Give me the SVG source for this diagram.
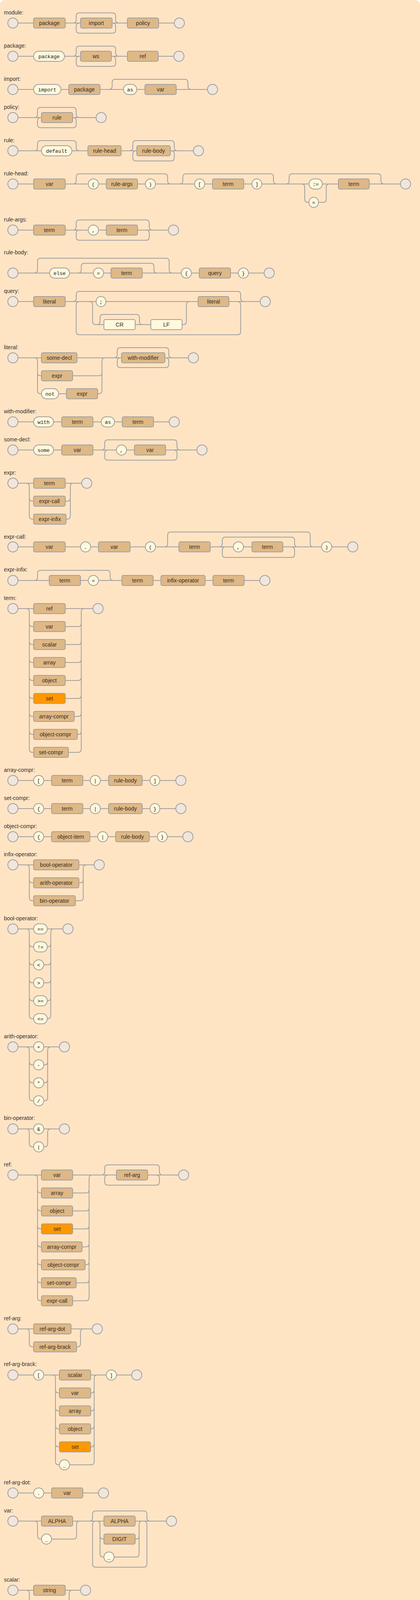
<svg xmlns="http://www.w3.org/2000/svg" width="1075" height="7528" viewBox="0 0 1075 7528">
<style>
.bg{fill:#FFE4C4}
.nt{fill:#DEB887;stroke:#A0A0A0;stroke-width:2}
.t{fill:#FFF8DC;stroke:#A0A0A0;stroke-width:2}
.l{fill:#FFF8DC;stroke:#A0A0A0;stroke-width:2}
.o{fill:#FF9800;stroke:#A0A0A0;stroke-width:2}
.c{fill:#F0E6DC;stroke:#A0A0A0;stroke-width:2}
.s{font-family:"Liberation Sans",Arial,sans-serif;font-size:14px;fill:#3a2f20;text-anchor:middle}
.m{font-family:"Liberation Mono","DejaVu Sans Mono",monospace;font-size:13px;fill:#222;text-anchor:middle}
.lb{font-family:"Liberation Sans",Arial,sans-serif;font-size:14px;fill:#333}
.k{font-family:"Liberation Sans",Arial,sans-serif;font-size:9px;fill:#333;text-anchor:middle}
#conn path{fill:none;stroke:#A0A0A0;stroke-width:2}
</style>
<rect class="bg" x="0" y="0" width="1075" height="7528" rx="12"/>
<g id="labels">
<text class="lb" x="10" y="37">module:</text>
<text class="lb" x="10" y="122">package:</text>
<text class="lb" x="10" y="207">import:</text>
<text class="lb" x="10" y="279">policy:</text>
<text class="lb" x="10" y="364">rule:</text>
<text class="lb" x="10" y="449">rule-head:</text>
<text class="lb" x="10" y="567">rule-args:</text>
<text class="lb" x="10" y="651">rule-body:</text>
<text class="lb" x="10" y="750">query:</text>
<text class="lb" x="10" y="894">literal:</text>
<text class="lb" x="10" y="1058">with-modifier:</text>
<text class="lb" x="10" y="1130">some-decl:</text>
<text class="lb" x="10" y="1215">expr:</text>
<text class="lb" x="10" y="1379">expr-call:</text>
<text class="lb" x="10" y="1463">expr-infix:</text>
<text class="lb" x="10" y="1536">term:</text>
<text class="lb" x="10" y="1976">array-compr:</text>
<text class="lb" x="10" y="2048">set-compr:</text>
<text class="lb" x="10" y="2120">object-compr:</text>
<text class="lb" x="10" y="2192">infix-operator:</text>
<text class="lb" x="10" y="2356">bool-operator:</text>
<text class="lb" x="10" y="2658">arith-operator:</text>
<text class="lb" x="10" y="2867">bin-operator:</text>
<text class="lb" x="10" y="2986">ref:</text>
<text class="lb" x="10" y="3380">ref-arg:</text>
<text class="lb" x="10" y="3497">ref-arg-brack:</text>
<text class="lb" x="10" y="3800">ref-arg-dot:</text>
<text class="lb" x="10" y="3872">var:</text>
<text class="lb" x="10" y="4049">scalar:</text>
<text class="lb" x="10" y="4305">string:</text>
<text class="lb" x="10" y="4423">raw-string:</text>
<text class="lb" x="10" y="4508">array:</text>
<text class="lb" x="10" y="4593">object:</text>
<text class="lb" x="10" y="4677">object-item:</text>
<text class="lb" x="10" y="4842">set:</text>
<text class="lb" x="10" y="4960">non-empty-set:</text>
<text class="lb" x="10" y="5045">empty-set:</text>
<text class="lb" x="10" y="5117">ALPHA:</text>
<text class="lb" x="10" y="5189">DIGIT:</text>
<text class="lb" x="10" y="5306">NUMBER:</text>
<text class="lb" x="10" y="5378">CHAR:</text>
<text class="lb" x="10" y="5451">ws:</text>
<text class="lb" x="10" y="5522">JSON-number:</text>
<text class="lb" x="10" y="5608">decimal-point:</text>
<text class="lb" x="10" y="5680">digit1-9:</text>
<text class="lb" x="10" y="5752">e:</text>
<text class="lb" x="10" y="5825">exp:</text>
<text class="lb" x="10" y="5942">frac:</text>
<text class="lb" x="10" y="6026">int:</text>
<text class="lb" x="10" y="6170">minus:</text>
<text class="lb" x="10" y="6243">plus:</text>
<text class="lb" x="10" y="6315">zero:</text>
<text class="lb" x="10" y="6387">JSON-string:</text>
<text class="lb" x="10" y="6472">quotation-mark:</text>
<text class="lb" x="10" y="6544">JSON-char:</text>
<text class="lb" x="10" y="7043">unescaped:</text>
<text class="lb" x="10" y="7115">escape:</text>
<text class="lb" x="10" y="7187">HEXDIG:</text>
</g>
<g id="conn">
<path d="M46,59H446M187,59Q195,59 195,51V41Q195,33 203,33H288Q296,33 296,41V51Q296,59 304,59M288,59Q296,59 296,67V77Q296,85 288,85H203Q195,85 195,77V67Q195,59 203,59"/>
<path d="M46,144H445M187,144Q195,144 195,136V126Q195,118 203,118H288Q296,118 296,126V136Q296,144 304,144M288,144Q296,144 296,152V162Q296,170 288,170H203Q195,170 195,162V152Q195,144 203,144"/>
<path d="M46,229H531M279,229Q287,229 287,221V211Q287,203 295,203H473Q481,203 481,211V221Q481,229 489,229"/>
<path d="M46,301H246M88,301Q96,301 96,293V283Q96,275 104,275H187Q195,275 195,283V293Q195,301 203,301M187,301Q195,301 195,309V319Q195,327 187,327H104Q96,327 96,319V309Q96,301 104,301"/>
<path d="M46,386H495M88,386Q96,386 96,378V368Q96,360 104,360H187Q195,360 195,368V378Q195,386 203,386M332,386Q340,386 340,378V368Q340,360 348,360H438Q446,360 446,368V378Q446,386 454,386M438,386Q446,386 446,394V404Q446,412 438,412H348Q340,412 340,404V394Q340,386 348,386"/>
<path d="M46,471H1025M187,471Q195,471 195,463V453Q195,445 203,445H421Q429,445 429,453V463Q429,471 437,471M460,471Q468,471 468,463V453Q468,445 476,445H692Q700,445 700,453V463Q700,471 708,471M732,471Q740,471 740,463V453Q740,445 748,445H967Q975,445 975,453V463Q975,471 983,471M772,471Q780,471 780,479V510M835,510V479Q835,471 843,471M780,510Q780,518 788,518H827Q835,518 835,510"/>
<path d="M46,589H431M187,589Q195,589 195,581V571Q195,563 203,563H374Q382,563 382,571V581Q382,589 390,589M374,589Q382,589 382,597V607Q382,615 374,615H203Q195,615 195,607V597Q195,589 203,589"/>
<path d="M46,699H676M88,699Q96,699 96,691V669Q96,661 104,661H425Q433,661 433,669V691Q433,699 441,699M200,699Q208,699 208,691V682Q208,674 216,674H386Q394,674 394,682V691Q394,699 402,699"/>
<path d="M46,772H666M187,772Q195,772 195,764V754Q195,746 203,746H608Q616,746 616,754V764Q616,772 624,772M608,772Q616,772 616,780V849Q616,857 608,857H203Q195,857 195,849V780Q195,772 203,772M229,772Q237,772 237,780V823M477,823V780Q477,772 485,772M237,823Q237,831 245,831H469Q477,831 477,823M248,831Q256,831 256,823V813Q256,805 264,805H349Q357,805 357,813V823Q357,831 365,831"/>
<path d="M46,916H482M88,916Q96,916 96,924V1000M261,1000V924Q261,916 269,916M96,954Q96,962 104,962H253Q261,962 261,954M96,1000Q96,1008 104,1008H253Q261,1008 261,1000M292,916Q300,916 300,908V898Q300,890 308,890H424Q432,890 432,898V908Q432,916 440,916M424,916Q432,916 432,924V933Q432,941 424,941H308Q300,941 300,933V924Q300,916 308,916"/>
<path d="M46,1080H433"/>
<path d="M46,1152H504M260,1152Q268,1152 268,1144V1134Q268,1126 276,1126H445Q453,1126 453,1134V1144Q453,1152 461,1152M445,1152Q453,1152 453,1160V1170Q453,1178 445,1178H276Q268,1178 268,1170V1160Q268,1152 276,1152"/>
<path d="M46,1237H209M67,1237Q75,1237 75,1245V1321M180,1321V1245Q180,1237 188,1237M75,1275Q75,1283 83,1283H172Q180,1283 180,1275M75,1321Q75,1329 83,1329H172Q180,1329 180,1321"/>
<path d="M46,1400H890M421,1400Q429,1400 429,1392V1370Q429,1362 437,1362H786Q794,1362 794,1370V1392Q794,1400 802,1400M561,1400Q569,1400 569,1392V1383Q569,1375 577,1375H746Q754,1375 754,1383V1392Q754,1400 762,1400M746,1400Q754,1400 754,1408V1419Q754,1427 746,1427H577Q569,1427 569,1419V1408Q569,1400 577,1400"/>
<path d="M46,1486H665M88,1486Q96,1486 96,1478V1468Q96,1460 104,1460H274Q282,1460 282,1468V1478Q282,1486 290,1486"/>
<path d="M46,1558H238M67,1558Q75,1558 75,1566V1918M208,1918V1566Q208,1558 216,1558M75,1596Q75,1604 83,1604H200Q208,1604 208,1596M75,1642Q75,1650 83,1650H200Q208,1650 208,1642M75,1688Q75,1696 83,1696H200Q208,1696 208,1688M75,1734Q75,1742 83,1742H200Q208,1742 208,1734M75,1780Q75,1788 83,1788H200Q208,1788 208,1780M75,1826Q75,1834 83,1834H200Q208,1834 208,1826M75,1872Q75,1880 83,1880H200Q208,1880 208,1872M75,1918Q75,1926 83,1926H200Q208,1926 208,1918"/>
<path d="M46,1998H450M46,2070H450M46,2142H468"/>
<path d="M46,2214H241M67,2214Q75,2214 75,2222V2298M213,2298V2222Q213,2214 221,2214M75,2252Q75,2260 83,2260H205Q213,2260 213,2252M75,2298Q75,2306 83,2306H205Q213,2306 213,2298"/>
<path d="M46,2378H161M67,2378Q75,2378 75,2386V2600M130,2600V2386Q130,2378 138,2378M75,2416Q75,2424 83,2424H122Q130,2424 130,2416M75,2462Q75,2470 83,2470H122Q130,2470 130,2462M75,2508Q75,2516 83,2516H122Q130,2516 130,2508M75,2554Q75,2562 83,2562H122Q130,2562 130,2554M75,2600Q75,2608 83,2608H122Q130,2608 130,2600"/>
<path d="M46,2680H152M67,2680Q75,2680 75,2688V2810M122,2810V2688Q122,2680 130,2680M75,2718Q75,2726 83,2726H114Q122,2726 122,2718M75,2764Q75,2772 83,2772H114Q122,2772 122,2764M75,2810Q75,2818 83,2818H114Q122,2818 122,2810"/>
<path d="M46,2890H152M67,2890Q75,2890 75,2898V2928M122,2928V2898Q122,2890 130,2890M75,2928Q75,2936 83,2936H114Q122,2936 122,2928"/>
<path d="M46,3008H457M88,3008Q96,3008 96,3016V3322M228,3322V3016Q228,3008 236,3008M96,3046Q96,3054 104,3054H220Q228,3054 228,3046M96,3092Q96,3100 104,3100H220Q228,3100 228,3092M96,3138Q96,3146 104,3146H220Q228,3146 228,3138M96,3184Q96,3192 104,3192H220Q228,3192 228,3184M96,3230Q96,3238 104,3238H220Q228,3238 228,3230M96,3276Q96,3284 104,3284H220Q228,3284 228,3276M96,3322Q96,3330 104,3330H220Q228,3330 228,3322M260,3008Q268,3008 268,3000V2990Q268,2982 276,2982H400Q408,2982 408,2990V3000Q408,3008 416,3008M400,3008Q408,3008 408,3016V3026Q408,3034 400,3034H276Q268,3034 268,3026V3016Q268,3008 276,3008"/>
<path d="M46,3402H236M67,3402Q75,3402 75,3410V3440M206,3440V3410Q206,3402 214,3402M75,3440Q75,3448 83,3448H198Q206,3448 206,3440"/>
<path d="M46,3520H337M134,3520Q142,3520 142,3528V3742M241,3742V3528Q241,3520 249,3520M142,3558Q142,3566 150,3566H233Q241,3566 241,3558M142,3604Q142,3612 150,3612H233Q241,3612 241,3604M142,3650Q142,3658 150,3658H233Q241,3658 241,3650M142,3696Q142,3704 150,3704H233Q241,3704 241,3696M142,3742Q142,3750 150,3750H233Q241,3750 241,3742"/>
<path d="M46,3822H252"/>
<path d="M46,3894H426M88,3894Q96,3894 96,3902V3932M196,3932V3902Q196,3894 204,3894M96,3932Q96,3940 104,3940H188Q196,3940 196,3932M229,3894Q237,3894 237,3886V3876Q237,3868 245,3868H368Q376,3868 376,3876V3886Q376,3894 384,3894M368,3894Q376,3894 376,3902V4004Q376,4012 368,4012H245Q237,4012 237,4004V3902Q237,3894 245,3894M248,3894Q256,3894 256,3902V3978M356,3978V3902Q356,3894 364,3894M256,3932Q256,3940 264,3940H348Q356,3940 356,3932M256,3978Q256,3986 264,3986H348Q356,3986 356,3978"/>
<path d="M46,4071H206M67,4071Q75,4071 75,4079V4247M177,4247V4079Q177,4071 185,4071M75,4109Q75,4117 83,4117H169Q177,4117 177,4109M75,4155Q75,4163 83,4163H169Q177,4163 177,4155M75,4201Q75,4209 83,4209H169Q177,4209 177,4201M75,4247Q75,4255 83,4255H169Q177,4255 177,4247"/>
<path d="M46,4327H241M67,4327Q75,4327 75,4335V4365M211,4365V4335Q211,4327 219,4327M75,4365Q75,4373 83,4373H203Q211,4373 211,4365"/>
<path d="M46,4445H424M134,4445Q142,4445 142,4437V4427Q142,4419 150,4419H320Q328,4419 328,4427V4437Q328,4445 336,4445M320,4445Q328,4445 328,4453V4463Q328,4471 320,4471H150Q142,4471 142,4463V4453Q142,4445 150,4445"/>
<path d="M46,4530H524M234,4530Q242,4530 242,4522V4512Q242,4504 250,4504H420Q428,4504 428,4512V4522Q428,4530 436,4530M420,4530Q428,4530 428,4538V4548Q428,4556 420,4556H250Q242,4556 242,4548V4538Q242,4530 250,4530"/>
<path d="M46,4615H560M253,4615Q261,4615 261,4607V4597Q261,4589 269,4589H456Q464,4589 464,4597V4607Q464,4615 472,4615M456,4615Q464,4615 464,4623V4633Q464,4641 456,4641H269Q261,4641 261,4633V4623Q261,4615 269,4615"/>
<path d="M46,4700H392M88,4700Q96,4700 96,4708V4784M196,4784V4708Q196,4700 204,4700M96,4738Q96,4746 104,4746H188Q196,4746 196,4738M96,4784Q96,4792 104,4792H188Q196,4792 196,4784"/>
<path d="M46,4864H248M67,4864Q75,4864 75,4872V4902M218,4902V4872Q218,4864 226,4864M75,4902Q75,4910 83,4910H210Q218,4910 218,4902"/>
<path d="M46,4982H524M234,4982Q242,4982 242,4974V4964Q242,4956 250,4956H420Q428,4956 428,4964V4974Q428,4982 436,4982M420,4982Q428,4982 428,4990V5000Q428,5008 420,5008H250Q242,5008 242,5000V4990Q242,4982 250,4982"/>
<path d="M46,5067H224M46,5139H182"/>
<path d="M46,5211H206M67,5211Q75,5211 75,5219V5249M176,5249V5219Q176,5211 184,5211M75,5249Q75,5257 83,5257H168Q176,5257 176,5249"/>
<path d="M46,5329H241M46,5401H206M46,5473H226"/>
<path d="M46,5558H626M88,5558Q96,5558 96,5550V5540Q96,5532 104,5532H187Q195,5532 195,5540V5550Q195,5558 203,5558M328,5558Q336,5558 336,5550V5540Q336,5532 344,5532H428Q436,5532 436,5540V5550Q436,5558 444,5558M469,5558Q477,5558 477,5550V5540Q477,5532 485,5532H568Q576,5532 576,5540V5550Q576,5558 584,5558"/>
<path d="M46,5630H206M46,5702H147M46,5774H147"/>
<path d="M46,5846H526M187,5846Q195,5846 195,5838V5828Q195,5820 203,5820H328Q336,5820 336,5828V5838Q336,5846 344,5846M209,5846Q217,5846 217,5854V5884M316,5884V5854Q316,5846 324,5846M217,5884Q217,5892 225,5892H308Q316,5892 316,5884M468,5846Q476,5846 476,5854V5864Q476,5872 468,5872H385Q377,5872 377,5864V5854Q377,5846 385,5846"/>
<path d="M46,5964H381M323,5964Q331,5964 331,5972V5982Q331,5990 323,5990H240Q232,5990 232,5982V5972Q232,5964 240,5964"/>
<path d="M46,6049H346M67,6049Q75,6049 75,6057V6100M316,6100V6057Q316,6049 324,6049M75,6100Q75,6108 83,6108H308Q316,6108 316,6100M189,6108Q197,6108 197,6100V6090Q197,6082 205,6082H288Q296,6082 296,6090V6100Q296,6108 304,6108M288,6108Q296,6108 296,6116V6125Q296,6133 288,6133H205Q197,6133 197,6125V6116Q197,6108 205,6108"/>
<path d="M46,6193H112M46,6265H112M46,6337H112"/>
<path d="M46,6409H552M235,6409Q243,6409 243,6401V6391Q243,6383 251,6383H347Q355,6383 355,6391V6401Q355,6409 363,6409M347,6409Q355,6409 355,6417V6427Q355,6435 347,6435H251Q243,6435 243,6427V6417Q243,6409 251,6409"/>
<path d="M46,6494H112"/>
<path d="M46,6566H432M67,6566Q75,6566 75,6574V6604M402,6604V6574Q402,6566 410,6566M75,6604Q75,6612 83,6612H394Q402,6612 402,6604M188,6612Q196,6612 196,6620V6972M381,6972V6620Q381,6612 389,6612M196,6650Q196,6658 204,6658H373Q381,6658 381,6650M196,6696Q196,6704 204,6704H373Q381,6704 381,6696M196,6742Q196,6750 204,6750H373Q381,6750 381,6742M196,6788Q196,6796 204,6796H373Q381,6796 381,6788M196,6834Q196,6842 204,6842H373Q381,6842 381,6834M196,6880Q196,6888 204,6888H373Q381,6888 381,6880M196,6926Q196,6934 204,6934H373Q381,6934 381,6926M196,6972Q196,6980 204,6980H373Q381,6980 381,6972M353,6980Q361,6980 361,6988V6997Q361,7005 353,7005H271Q263,7005 263,6997V6988Q263,6980 271,6980"/>
<path d="M46,7065H234M46,7137H112"/>
<path d="M46,7209H206M67,7209Q75,7209 75,7217V7477M176,7477V7217Q176,7209 184,7209M75,7247Q75,7255 83,7255H168Q176,7255 176,7247M75,7293Q75,7301 83,7301H168Q176,7301 176,7293M75,7339Q75,7347 83,7347H168Q176,7347 176,7339M75,7385Q75,7393 83,7393H168Q176,7393 176,7385M75,7431Q75,7439 83,7439H168Q176,7439 176,7431M75,7477Q75,7485 83,7485H168Q176,7485 176,7477"/>
</g>
<g id="ends">
<circle class="c" cx="33" cy="59" r="13"/><circle class="c" cx="459" cy="59" r="13"/>
<circle class="c" cx="33" cy="144" r="13"/><circle class="c" cx="458" cy="144" r="13"/>
<circle class="c" cx="33" cy="229" r="13"/><circle class="c" cx="544" cy="229" r="13"/>
<circle class="c" cx="33" cy="301" r="13"/><circle class="c" cx="259" cy="301" r="13"/>
<circle class="c" cx="33" cy="386" r="13"/><circle class="c" cx="508" cy="386" r="13"/>
<circle class="c" cx="33" cy="471" r="13"/><circle class="c" cx="1038" cy="471" r="13"/>
<circle class="c" cx="33" cy="589" r="13"/><circle class="c" cx="444" cy="589" r="13"/>
<circle class="c" cx="33" cy="699" r="13"/><circle class="c" cx="689" cy="699" r="13"/>
<circle class="c" cx="33" cy="772" r="13"/><circle class="c" cx="679" cy="772" r="13"/>
<circle class="c" cx="33" cy="916" r="13"/><circle class="c" cx="495" cy="916" r="13"/>
<circle class="c" cx="33" cy="1080" r="13"/><circle class="c" cx="446" cy="1080" r="13"/>
<circle class="c" cx="33" cy="1152" r="13"/><circle class="c" cx="517" cy="1152" r="13"/>
<circle class="c" cx="33" cy="1237" r="13"/><circle class="c" cx="222" cy="1237" r="13"/>
<circle class="c" cx="33" cy="1400" r="13"/><circle class="c" cx="903" cy="1400" r="13"/>
<circle class="c" cx="33" cy="1486" r="13"/><circle class="c" cx="678" cy="1486" r="13"/>
<circle class="c" cx="33" cy="1558" r="13"/><circle class="c" cx="251" cy="1558" r="13"/>
<circle class="c" cx="33" cy="1998" r="13"/><circle class="c" cx="463" cy="1998" r="13"/>
<circle class="c" cx="33" cy="2070" r="13"/><circle class="c" cx="463" cy="2070" r="13"/>
<circle class="c" cx="33" cy="2142" r="13"/><circle class="c" cx="481" cy="2142" r="13"/>
<circle class="c" cx="33" cy="2214" r="13"/><circle class="c" cx="254" cy="2214" r="13"/>
<circle class="c" cx="33" cy="2378" r="13"/><circle class="c" cx="174" cy="2378" r="13"/>
<circle class="c" cx="33" cy="2680" r="13"/><circle class="c" cx="165" cy="2680" r="13"/>
<circle class="c" cx="33" cy="2890" r="13"/><circle class="c" cx="165" cy="2890" r="13"/>
<circle class="c" cx="33" cy="3008" r="13"/><circle class="c" cx="470" cy="3008" r="13"/>
<circle class="c" cx="33" cy="3402" r="13"/><circle class="c" cx="249" cy="3402" r="13"/>
<circle class="c" cx="33" cy="3520" r="13"/><circle class="c" cx="350" cy="3520" r="13"/>
<circle class="c" cx="33" cy="3822" r="13"/><circle class="c" cx="265" cy="3822" r="13"/>
<circle class="c" cx="33" cy="3894" r="13"/><circle class="c" cx="439" cy="3894" r="13"/>
<circle class="c" cx="33" cy="4071" r="13"/><circle class="c" cx="219" cy="4071" r="13"/>
<circle class="c" cx="33" cy="4327" r="13"/><circle class="c" cx="254" cy="4327" r="13"/>
<circle class="c" cx="33" cy="4445" r="13"/><circle class="c" cx="437" cy="4445" r="13"/>
<circle class="c" cx="33" cy="4530" r="13"/><circle class="c" cx="537" cy="4530" r="13"/>
<circle class="c" cx="33" cy="4615" r="13"/><circle class="c" cx="573" cy="4615" r="13"/>
<circle class="c" cx="33" cy="4700" r="13"/><circle class="c" cx="405" cy="4700" r="13"/>
<circle class="c" cx="33" cy="4864" r="13"/><circle class="c" cx="261" cy="4864" r="13"/>
<circle class="c" cx="33" cy="4982" r="13"/><circle class="c" cx="537" cy="4982" r="13"/>
<circle class="c" cx="33" cy="5067" r="13"/><circle class="c" cx="237" cy="5067" r="13"/>
<circle class="c" cx="33" cy="5139" r="13"/><circle class="c" cx="195" cy="5139" r="13"/>
<circle class="c" cx="33" cy="5211" r="13"/><circle class="c" cx="219" cy="5211" r="13"/>
<circle class="c" cx="33" cy="5329" r="13"/><circle class="c" cx="254" cy="5329" r="13"/>
<circle class="c" cx="33" cy="5401" r="13"/><circle class="c" cx="219" cy="5401" r="13"/>
<circle class="c" cx="33" cy="5473" r="13"/><circle class="c" cx="239" cy="5473" r="13"/>
<circle class="c" cx="33" cy="5558" r="13"/><circle class="c" cx="639" cy="5558" r="13"/>
<circle class="c" cx="33" cy="5630" r="13"/><circle class="c" cx="219" cy="5630" r="13"/>
<circle class="c" cx="33" cy="5702" r="13"/><circle class="c" cx="160" cy="5702" r="13"/>
<circle class="c" cx="33" cy="5774" r="13"/><circle class="c" cx="160" cy="5774" r="13"/>
<circle class="c" cx="33" cy="5846" r="13"/><circle class="c" cx="539" cy="5846" r="13"/>
<circle class="c" cx="33" cy="5964" r="13"/><circle class="c" cx="394" cy="5964" r="13"/>
<circle class="c" cx="33" cy="6049" r="13"/><circle class="c" cx="359" cy="6049" r="13"/>
<circle class="c" cx="33" cy="6193" r="13"/><circle class="c" cx="125" cy="6193" r="13"/>
<circle class="c" cx="33" cy="6265" r="13"/><circle class="c" cx="125" cy="6265" r="13"/>
<circle class="c" cx="33" cy="6337" r="13"/><circle class="c" cx="125" cy="6337" r="13"/>
<circle class="c" cx="33" cy="6409" r="13"/><circle class="c" cx="565" cy="6409" r="13"/>
<circle class="c" cx="33" cy="6494" r="13"/><circle class="c" cx="125" cy="6494" r="13"/>
<circle class="c" cx="33" cy="6566" r="13"/><circle class="c" cx="445" cy="6566" r="13"/>
<circle class="c" cx="33" cy="7065" r="13"/><circle class="c" cx="247" cy="7065" r="13"/>
<circle class="c" cx="33" cy="7137" r="13"/><circle class="c" cx="125" cy="7137" r="13"/>
<circle class="c" cx="33" cy="7209" r="13"/><circle class="c" cx="219" cy="7209" r="13"/>
</g>
<g id="module">
<g id="n1"><rect class="nt" x="86" y="46" width="81" height="26" rx="4"/><text class="s" x="126.5" y="64">package</text></g>
<g id="n2"><rect class="nt" x="206" y="46" width="81" height="26" rx="4"/><text class="s" x="246.5" y="64">import</text></g>
<g id="n3"><rect class="nt" x="326" y="46" width="80" height="26" rx="4"/><text class="s" x="366" y="64">policy</text></g>
</g>
<g id="package">
<g id="n4"><rect class="t" x="86" y="131" width="79" height="26" rx="13"/><text class="m" x="125.5" y="149">package</text></g>
<g id="n5"><rect class="nt" x="206" y="131" width="79" height="26" rx="4"/><text class="s" x="245.5" y="149">ws</text></g>
<g id="n6"><rect class="nt" x="326" y="131" width="79" height="26" rx="4"/><text class="s" x="365.5" y="149">ref</text></g>
</g>
<g id="import">
<g id="n7"><rect class="t" x="86" y="216" width="70" height="26" rx="13"/><text class="m" x="121" y="234">import</text></g>
<g id="n8"><rect class="nt" x="176" y="216" width="80" height="26" rx="4"/><text class="s" x="216" y="234">package</text></g>
<g id="n9"><rect class="t" x="316" y="216" width="34" height="26" rx="13"/><text class="m" x="333" y="234">as</text></g>
<g id="n10"><rect class="nt" x="371" y="216" width="80" height="26" rx="4"/><text class="s" x="411" y="234">var</text></g>
</g>
<g id="policy">
<g id="n11"><rect class="nt" x="106" y="288" width="80" height="26" rx="4"/><text class="s" x="146" y="306">rule</text></g>
</g>
<g id="rule">
<g id="n12"><rect class="t" x="106" y="373" width="78" height="26" rx="13"/><text class="m" x="145" y="391">default</text></g>
<g id="n13"><rect class="nt" x="225" y="373" width="85" height="26" rx="4"/><text class="s" x="267.5" y="391">rule-head</text></g>
<g id="n14"><rect class="nt" x="350" y="373" width="86" height="26" rx="4"/><text class="s" x="393" y="391">rule-body</text></g>
</g>
<g id="rule-head">
<g id="n15"><rect class="nt" x="86" y="458" width="81" height="26" rx="4"/><text class="s" x="126.5" y="476">var</text></g>
<g id="n16"><rect class="t" x="226" y="458" width="26" height="26" rx="13"/><text class="m" x="239" y="476">(</text></g>
<g id="n17"><rect class="nt" x="272" y="458" width="80" height="26" rx="4"/><text class="s" x="312" y="476">rule-args</text></g>
<g id="n18"><rect class="t" x="372" y="458" width="26" height="26" rx="13"/><text class="m" x="385" y="476">)</text></g>
<g id="n19"><rect class="t" x="498" y="458" width="26" height="26" rx="13"/><text class="m" x="511" y="476">[</text></g>
<g id="n20"><rect class="nt" x="544" y="458" width="80" height="26" rx="4"/><text class="s" x="584" y="476">term</text></g>
<g id="n21"><rect class="t" x="645" y="458" width="25" height="26" rx="12.5"/><text class="m" x="657.5" y="476">]</text></g>
<g id="n22"><rect class="t" x="791" y="458" width="34" height="26" rx="13"/><text class="m" x="808" y="476">:=</text></g>
<g id="n23"><rect class="t" x="791" y="505" width="24" height="26" rx="12"/><text class="m" x="803" y="523">=</text></g>
<g id="n24"><rect class="nt" x="866" y="458" width="79" height="26" rx="4"/><text class="s" x="905.5" y="476">term</text></g>
</g>
<g id="rule-args">
<g id="n25"><rect class="nt" x="86" y="576" width="81" height="26" rx="4"/><text class="s" x="126.5" y="594">term</text></g>
<g id="n26"><rect class="t" x="226" y="576" width="26" height="26" rx="13"/><text class="m" x="239" y="594">,</text></g>
<g id="n27"><rect class="nt" x="272" y="576" width="80" height="26" rx="4"/><text class="s" x="312" y="594">term</text></g>
</g>
<g id="rule-body">
<g id="n28"><rect class="t" x="127" y="686" width="51" height="26" rx="13"/><text class="m" x="152.5" y="704">else</text></g>
<g id="n29"><rect class="t" x="239" y="686" width="26" height="26" rx="13"/><text class="m" x="252" y="704">=</text></g>
<g id="n30"><rect class="nt" x="284" y="686" width="80" height="26" rx="4"/><text class="s" x="324" y="704">term</text></g>
<g id="n31"><rect class="t" x="464" y="686" width="26" height="26" rx="13"/><text class="m" x="477" y="704">{</text></g>
<g id="n32"><rect class="nt" x="510" y="686" width="80" height="26" rx="4"/><text class="s" x="550" y="704">query</text></g>
<g id="n33"><rect class="t" x="610" y="686" width="26" height="26" rx="13"/><text class="m" x="623" y="704">}</text></g>
</g>
<g id="query">
<g id="n34"><rect class="nt" x="86" y="759" width="81" height="26" rx="4"/><text class="s" x="126.5" y="777">literal</text></g>
<g id="n35"><rect class="t" x="246" y="759" width="25" height="26" rx="12.5"/><text class="m" x="258.5" y="777">;</text></g>
<g id="n36"><rect class="l" x="266" y="818" width="80" height="26" rx="4"/><text class="s" x="306" y="836">CR</text></g>
<g id="n37"><rect class="l" x="386" y="818" width="80" height="26" rx="4"/><text class="s" x="426" y="836">LF</text></g>
<g id="n38"><rect class="nt" x="507" y="759" width="79" height="26" rx="4"/><text class="s" x="546.5" y="777">literal</text></g>
</g>
<g id="literal">
<g id="n39"><rect class="nt" x="106" y="903" width="91" height="26" rx="4"/><text class="s" x="151.5" y="921">some-decl</text></g>
<g id="n40"><rect class="nt" x="106" y="949" width="80" height="26" rx="4"/><text class="s" x="146" y="967">expr</text></g>
<g id="n41"><rect class="t" x="106" y="995" width="44" height="26" rx="13"/><text class="m" x="128" y="1013">not</text></g>
<g id="n42"><rect class="nt" x="170" y="995" width="80" height="26" rx="4"/><text class="s" x="210" y="1013">expr</text></g>
<g id="n43"><rect class="nt" x="311" y="903" width="111" height="26" rx="4"/><text class="s" x="366.5" y="921">with-modifier</text></g>
</g>
<g id="with-modifier">
<g id="n44"><rect class="t" x="86" y="1067" width="51" height="26" rx="13"/><text class="m" x="111.5" y="1085">with</text></g>
<g id="n45"><rect class="nt" x="158" y="1067" width="80" height="26" rx="4"/><text class="s" x="198" y="1085">term</text></g>
<g id="n46"><rect class="t" x="259" y="1067" width="34" height="26" rx="13"/><text class="m" x="276" y="1085">as</text></g>
<g id="n47"><rect class="nt" x="313" y="1067" width="80" height="26" rx="4"/><text class="s" x="353" y="1085">term</text></g>
</g>
<g id="some-decl">
<g id="n48"><rect class="t" x="86" y="1139" width="51" height="26" rx="13"/><text class="m" x="111.5" y="1157">some</text></g>
<g id="n49"><rect class="nt" x="158" y="1139" width="80" height="26" rx="4"/><text class="s" x="198" y="1157">var</text></g>
<g id="n50"><rect class="t" x="298" y="1139" width="26" height="26" rx="13"/><text class="m" x="311" y="1157">,</text></g>
<g id="n51"><rect class="nt" x="344" y="1139" width="80" height="26" rx="4"/><text class="s" x="384" y="1157">var</text></g>
</g>
<g id="expr">
<g id="n52"><rect class="nt" x="86" y="1224" width="81" height="26" rx="4"/><text class="s" x="126.5" y="1242">term</text></g>
<g id="n53"><rect class="nt" x="86" y="1270" width="81" height="26" rx="4"/><text class="s" x="126.5" y="1288">expr-call</text></g>
<g id="n54"><rect class="nt" x="86" y="1316" width="83" height="26" rx="4"/><text class="s" x="127.5" y="1334">expr-infix</text></g>
</g>
<g id="expr-call">
<g id="n55"><rect class="nt" x="86" y="1387" width="81" height="26" rx="4"/><text class="s" x="126.5" y="1405">var</text></g>
<g id="n56"><rect class="t" x="206" y="1387" width="26" height="26" rx="13"/><text class="m" x="219" y="1405">.</text></g>
<g id="n57"><rect class="nt" x="252" y="1387" width="81" height="26" rx="4"/><text class="s" x="292.5" y="1405">var</text></g>
<g id="n58"><rect class="t" x="372" y="1387" width="26" height="26" rx="13"/><text class="m" x="385" y="1405">(</text></g>
<g id="n59"><rect class="nt" x="458" y="1387" width="80" height="26" rx="4"/><text class="s" x="498" y="1405">term</text></g>
<g id="n60"><rect class="t" x="597" y="1387" width="26" height="26" rx="13"/><text class="m" x="610" y="1405">,</text></g>
<g id="n61"><rect class="nt" x="645" y="1387" width="79" height="26" rx="4"/><text class="s" x="684.5" y="1405">term</text></g>
<g id="n62"><rect class="t" x="823" y="1387" width="26" height="26" rx="13"/><text class="m" x="836" y="1405">)</text></g>
</g>
<g id="expr-infix">
<g id="n63"><rect class="nt" x="126" y="1473" width="80" height="26" rx="4"/><text class="s" x="166" y="1491">term</text></g>
<g id="n64"><rect class="t" x="226" y="1473" width="26" height="26" rx="13"/><text class="m" x="239" y="1491">=</text></g>
<g id="n65"><rect class="nt" x="312" y="1473" width="80" height="26" rx="4"/><text class="s" x="352" y="1491">term</text></g>
<g id="n66"><rect class="nt" x="412" y="1473" width="113" height="26" rx="4"/><text class="s" x="468.5" y="1491">infix-operator</text></g>
<g id="n67"><rect class="nt" x="545" y="1473" width="80" height="26" rx="4"/><text class="s" x="585" y="1491">term</text></g>
</g>
<g id="term">
<g id="n68"><rect class="nt" x="86" y="1545" width="81" height="26" rx="4"/><text class="s" x="126.5" y="1563">ref</text></g>
<g id="n69"><rect class="nt" x="86" y="1591" width="81" height="26" rx="4"/><text class="s" x="126.5" y="1609">var</text></g>
<g id="n70"><rect class="nt" x="86" y="1637" width="81" height="26" rx="4"/><text class="s" x="126.5" y="1655">scalar</text></g>
<g id="n71"><rect class="nt" x="86" y="1683" width="81" height="26" rx="4"/><text class="s" x="126.5" y="1701">array</text></g>
<g id="n72"><rect class="nt" x="86" y="1729" width="81" height="26" rx="4"/><text class="s" x="126.5" y="1747">object</text></g>
<g id="n73"><rect class="o" x="86" y="1775" width="81" height="26" rx="4"/><text class="s" x="126.5" y="1793">set</text></g>
<g id="n74"><rect class="nt" x="86" y="1821" width="104" height="26" rx="4"/><text class="s" x="138" y="1839">array-compr</text></g>
<g id="n75"><rect class="nt" x="86" y="1867" width="112" height="26" rx="4"/><text class="s" x="142" y="1885">object-compr</text></g>
<g id="n76"><rect class="nt" x="86" y="1913" width="89" height="26" rx="4"/><text class="s" x="130.5" y="1931">set-compr</text></g>
</g>
<g id="array-compr">
<g id="n77"><rect class="t" x="86" y="1985" width="26" height="26" rx="13"/><text class="m" x="99" y="2003">[</text></g>
<g id="n78"><rect class="nt" x="132" y="1985" width="80" height="26" rx="4"/><text class="s" x="172" y="2003">term</text></g>
<g id="n79"><rect class="t" x="231" y="1985" width="26" height="26" rx="13"/><text class="m" x="244" y="2003">|</text></g>
<g id="n80"><rect class="nt" x="278" y="1985" width="86" height="26" rx="4"/><text class="s" x="321" y="2003">rule-body</text></g>
<g id="n81"><rect class="t" x="384" y="1985" width="25" height="26" rx="12.5"/><text class="m" x="396.5" y="2003">]</text></g>
</g>
<g id="set-compr">
<g id="n82"><rect class="t" x="86" y="2057" width="26" height="26" rx="13"/><text class="m" x="99" y="2075">{</text></g>
<g id="n83"><rect class="nt" x="132" y="2057" width="80" height="26" rx="4"/><text class="s" x="172" y="2075">term</text></g>
<g id="n84"><rect class="t" x="231" y="2057" width="26" height="26" rx="13"/><text class="m" x="244" y="2075">|</text></g>
<g id="n85"><rect class="nt" x="278" y="2057" width="86" height="26" rx="4"/><text class="s" x="321" y="2075">rule-body</text></g>
<g id="n86"><rect class="t" x="384" y="2057" width="25" height="26" rx="12.5"/><text class="m" x="396.5" y="2075">}</text></g>
</g>
<g id="object-compr">
<g id="n87"><rect class="t" x="86" y="2129" width="26" height="26" rx="13"/><text class="m" x="99" y="2147">{</text></g>
<g id="n88"><rect class="nt" x="132" y="2129" width="98" height="26" rx="4"/><text class="s" x="181" y="2147">object-item</text></g>
<g id="n89"><rect class="t" x="250" y="2129" width="26" height="26" rx="13"/><text class="m" x="263" y="2147">|</text></g>
<g id="n90"><rect class="nt" x="296" y="2129" width="86" height="26" rx="4"/><text class="s" x="339" y="2147">rule-body</text></g>
<g id="n91"><rect class="t" x="403" y="2129" width="25" height="26" rx="12.5"/><text class="m" x="415.5" y="2147">}</text></g>
</g>
<g id="infix-operator">
<g id="n92"><rect class="nt" x="86" y="2201" width="116" height="26" rx="4"/><text class="s" x="144" y="2219">bool-operator</text></g>
<g id="n93"><rect class="nt" x="86" y="2247" width="116" height="26" rx="4"/><text class="s" x="144" y="2265">arith-operator</text></g>
<g id="n94"><rect class="nt" x="86" y="2293" width="107" height="26" rx="4"/><text class="s" x="139.5" y="2311">bin-operator</text></g>
</g>
<g id="bool-operator">
<g id="n95"><rect class="t" x="86" y="2365" width="35" height="26" rx="13"/><text class="m" x="103.5" y="2383">==</text></g>
<g id="n96"><rect class="t" x="86" y="2411" width="35" height="26" rx="13"/><text class="m" x="103.5" y="2429">!=</text></g>
<g id="n97"><rect class="t" x="86" y="2457" width="26" height="26" rx="13"/><text class="m" x="99" y="2475">&lt;</text></g>
<g id="n98"><rect class="t" x="86" y="2503" width="26" height="26" rx="13"/><text class="m" x="99" y="2521">&gt;</text></g>
<g id="n99"><rect class="t" x="86" y="2549" width="35" height="26" rx="13"/><text class="m" x="103.5" y="2567">&gt;=</text></g>
<g id="n100"><rect class="t" x="86" y="2595" width="35" height="26" rx="13"/><text class="m" x="103.5" y="2613">&lt;=</text></g>
</g>
<g id="arith-operator">
<g id="n101"><rect class="t" x="86" y="2667" width="26" height="26" rx="13"/><text class="m" x="99" y="2685">+</text></g>
<g id="n102"><rect class="t" x="86" y="2713" width="26" height="26" rx="13"/><text class="m" x="99" y="2731">-</text></g>
<g id="n103"><rect class="t" x="86" y="2759" width="26" height="26" rx="13"/><text class="m" x="99" y="2777">*</text></g>
<g id="n104"><rect class="t" x="86" y="2805" width="26" height="26" rx="13"/><text class="m" x="99" y="2823">/</text></g>
</g>
<g id="bin-operator">
<g id="n105"><rect class="t" x="86" y="2877" width="26" height="26" rx="13"/><text class="m" x="99" y="2895">&amp;</text></g>
<g id="n106"><rect class="t" x="86" y="2923" width="26" height="26" rx="13"/><text class="m" x="99" y="2941">|</text></g>
</g>
<g id="ref">
<g id="n107"><rect class="nt" x="106" y="2995" width="80" height="26" rx="4"/><text class="s" x="146" y="3013">var</text></g>
<g id="n108"><rect class="nt" x="106" y="3041" width="80" height="26" rx="4"/><text class="s" x="146" y="3059">array</text></g>
<g id="n109"><rect class="nt" x="106" y="3087" width="80" height="26" rx="4"/><text class="s" x="146" y="3105">object</text></g>
<g id="n110"><rect class="o" x="106" y="3133" width="80" height="26" rx="4"/><text class="s" x="146" y="3151">set</text></g>
<g id="n111"><rect class="nt" x="106" y="3179" width="104" height="26" rx="4"/><text class="s" x="158" y="3197">array-compr</text></g>
<g id="n112"><rect class="nt" x="106" y="3225" width="112" height="26" rx="4"/><text class="s" x="162" y="3243">object-compr</text></g>
<g id="n113"><rect class="nt" x="106" y="3271" width="89" height="26" rx="4"/><text class="s" x="150.5" y="3289">set-compr</text></g>
<g id="n114"><rect class="nt" x="106" y="3317" width="80" height="26" rx="4"/><text class="s" x="146" y="3335">expr-call</text></g>
<g id="n115"><rect class="nt" x="298" y="2995" width="80" height="26" rx="4"/><text class="s" x="338" y="3013">ref-arg</text></g>
</g>
<g id="ref-arg">
<g id="n116"><rect class="nt" x="86" y="3389" width="96" height="26" rx="4"/><text class="s" x="134" y="3407">ref-arg-dot</text></g>
<g id="n117"><rect class="nt" x="86" y="3435" width="110" height="26" rx="4"/><text class="s" x="141" y="3453">ref-arg-brack</text></g>
</g>
<g id="ref-arg-brack">
<g id="n118"><rect class="t" x="86" y="3507" width="26" height="26" rx="13"/><text class="m" x="99" y="3525">[</text></g>
<g id="n119"><rect class="nt" x="152" y="3507" width="80" height="26" rx="4"/><text class="s" x="192" y="3525">scalar</text></g>
<g id="n120"><rect class="nt" x="152" y="3553" width="80" height="26" rx="4"/><text class="s" x="192" y="3571">var</text></g>
<g id="n121"><rect class="nt" x="152" y="3599" width="80" height="26" rx="4"/><text class="s" x="192" y="3617">array</text></g>
<g id="n122"><rect class="nt" x="152" y="3645" width="80" height="26" rx="4"/><text class="s" x="192" y="3663">object</text></g>
<g id="n123"><rect class="o" x="152" y="3691" width="80" height="26" rx="4"/><text class="s" x="192" y="3709">set</text></g>
<g id="n124"><rect class="t" x="152" y="3737" width="26" height="26" rx="13"/><text class="m" x="165" y="3755">_</text></g>
<g id="n125"><rect class="t" x="272" y="3507" width="26" height="26" rx="13"/><text class="m" x="285" y="3525">]</text></g>
</g>
<g id="ref-arg-dot">
<g id="n126"><rect class="t" x="86" y="3809" width="26" height="26" rx="13"/><text class="m" x="99" y="3827">.</text></g>
<g id="n127"><rect class="nt" x="132" y="3809" width="80" height="26" rx="4"/><text class="s" x="172" y="3827">var</text></g>
</g>
<g id="var">
<g id="n128"><rect class="nt" x="106" y="3881" width="80" height="26" rx="4"/><text class="s" x="146" y="3899">ALPHA</text></g>
<g id="n129"><rect class="t" x="106" y="3927" width="26" height="26" rx="13"/><text class="m" x="119" y="3945">_</text></g>
<g id="n130"><rect class="nt" x="266" y="3881" width="80" height="26" rx="4"/><text class="s" x="306" y="3899">ALPHA</text></g>
<g id="n131"><rect class="nt" x="266" y="3927" width="80" height="26" rx="4"/><text class="s" x="306" y="3945">DIGIT</text></g>
<g id="n132"><rect class="t" x="266" y="3973" width="26" height="26" rx="13"/><text class="m" x="279" y="3991">_</text></g>
</g>
<g id="scalar">
<g id="n133"><rect class="nt" x="86" y="4058" width="81" height="26" rx="4"/><text class="s" x="126.5" y="4076">string</text></g>
<g id="n134"><rect class="nt" x="86" y="4104" width="81" height="26" rx="4"/><text class="s" x="126.5" y="4122">NUMBER</text></g>
<g id="n135"><rect class="o" x="86" y="4150" width="81" height="26" rx="4"/><text class="s" x="126.5" y="4168">TRUE</text></g>
<g id="n136"><rect class="o" x="86" y="4196" width="81" height="26" rx="4"/><text class="s" x="126.5" y="4214">FALSE</text></g>
<g id="n137"><rect class="l" x="86" y="4242" width="81" height="26" rx="4"/><text class="s" x="126.5" y="4260">NULL</text></g>
</g>
<g id="string">
<g id="n138"><rect class="nt" x="86" y="4314" width="115" height="26" rx="4"/><text class="s" x="143.5" y="4332">JSON-STRING</text></g>
<g id="n139"><rect class="nt" x="86" y="4360" width="89" height="26" rx="4"/><text class="s" x="130.5" y="4378">raw-string</text></g>
</g>
<g id="raw-string">
<g id="n140"><rect class="t" x="86" y="4432" width="26" height="26" rx="13"/><text class="m" x="99" y="4450">`</text></g>
<g id="n141"><rect class="o" x="171" y="4432" width="81" height="26" rx="4"/><text class="s" x="211.5" y="4450">not</text></g>
<g id="n142"><rect class="t" x="272" y="4432" width="26" height="26" rx="13"/><text class="m" x="285" y="4450">`</text></g>
<g id="n143"><rect class="t" x="358" y="4432" width="26" height="26" rx="13"/><text class="m" x="371" y="4450">`</text></g>
</g>
<g id="array">
<g id="n144"><rect class="t" x="86" y="4517" width="26" height="26" rx="13"/><text class="m" x="99" y="4535">[</text></g>
<g id="n145"><rect class="nt" x="132" y="4517" width="80" height="26" rx="4"/><text class="s" x="172" y="4535">term</text></g>
<g id="n146"><rect class="t" x="272" y="4517" width="26" height="26" rx="13"/><text class="m" x="285" y="4535">,</text></g>
<g id="n147"><rect class="nt" x="318" y="4517" width="80" height="26" rx="4"/><text class="s" x="358" y="4535">term</text></g>
<g id="n148"><rect class="t" x="458" y="4517" width="26" height="26" rx="13"/><text class="m" x="471" y="4535">]</text></g>
</g>
<g id="object">
<g id="n149"><rect class="t" x="86" y="4602" width="26" height="26" rx="13"/><text class="m" x="99" y="4620">{</text></g>
<g id="n150"><rect class="nt" x="132" y="4602" width="98" height="26" rx="4"/><text class="s" x="181" y="4620">object-item</text></g>
<g id="n151"><rect class="t" x="289" y="4602" width="26" height="26" rx="13"/><text class="m" x="302" y="4620">,</text></g>
<g id="n152"><rect class="nt" x="336" y="4602" width="98" height="26" rx="4"/><text class="s" x="385" y="4620">object-item</text></g>
<g id="n153"><rect class="t" x="494" y="4602" width="25" height="26" rx="12.5"/><text class="m" x="506.5" y="4620">}</text></g>
</g>
<g id="object-item">
<g id="n154"><rect class="nt" x="106" y="4687" width="80" height="26" rx="4"/><text class="s" x="146" y="4705">scalar</text></g>
<g id="n155"><rect class="nt" x="106" y="4733" width="80" height="26" rx="4"/><text class="s" x="146" y="4751">ref</text></g>
<g id="n156"><rect class="nt" x="106" y="4779" width="80" height="26" rx="4"/><text class="s" x="146" y="4797">var</text></g>
<g id="n157"><rect class="t" x="226" y="4687" width="26" height="26" rx="13"/><text class="m" x="239" y="4705">:</text></g>
<g id="n158"><rect class="nt" x="272" y="4687" width="80" height="26" rx="4"/><text class="s" x="312" y="4705">term</text></g>
</g>
<g id="set">
<g id="n159"><rect class="nt" x="86" y="4851" width="89" height="26" rx="4"/><text class="s" x="130.5" y="4869">empty-set</text></g>
<g id="n160"><rect class="nt" x="86" y="4897" width="122" height="26" rx="4"/><text class="s" x="147" y="4915">non-empty-set</text></g>
</g>
<g id="non-empty-set">
<g id="n161"><rect class="t" x="86" y="4969" width="26" height="26" rx="13"/><text class="m" x="99" y="4987">{</text></g>
<g id="n162"><rect class="nt" x="132" y="4969" width="80" height="26" rx="4"/><text class="s" x="172" y="4987">term</text></g>
<g id="n163"><rect class="t" x="272" y="4969" width="26" height="26" rx="13"/><text class="m" x="285" y="4987">,</text></g>
<g id="n164"><rect class="nt" x="318" y="4969" width="80" height="26" rx="4"/><text class="s" x="358" y="4987">term</text></g>
<g id="n165"><rect class="t" x="458" y="4969" width="26" height="26" rx="13"/><text class="m" x="471" y="4987">}</text></g>
</g>
<g id="empty-set">
<g id="n166"><rect class="t" x="86" y="5054" width="51" height="26" rx="13"/><text class="m" x="111.5" y="5072">set(</text></g>
<g id="n167"><rect class="t" x="158" y="5054" width="26" height="26" rx="13"/><text class="m" x="171" y="5072">)</text></g>
</g>
<g id="ALPHA">
<g id="n168"><rect class="t" x="66" y="5126" width="95" height="26" rx="13"/><text class="m" x="113.5" y="5144">[A-Z a-z]</text></g>
</g>
<g id="DIGIT">
<g id="n169"><rect class="l" x="86" y="5198" width="81" height="26" rx="4"/><text class="s" x="126.5" y="5216">zero</text></g>
<g id="n170"><rect class="nt" x="86" y="5244" width="81" height="26" rx="4"/><text class="s" x="126.5" y="5262">digit1-9</text></g>
</g>
<g id="NUMBER">
<g id="n171"><rect class="nt" x="86" y="5316" width="116" height="26" rx="4"/><text class="s" x="144" y="5334">JSON-number</text></g>
</g>
<g id="CHAR">
<g id="n172"><rect class="o" x="86" y="5388" width="81" height="26" rx="4"/><text class="s" x="126.5" y="5406">skip</text></g>
</g>
<g id="ws">
<g id="n173"><rect class="t" x="66" y="5460" width="140" height="26" rx="13"/><text class="m" x="136" y="5478">[^- ^/ ^M ⟨sp⟩]</text></g>
</g>
<g id="JSON-number">
<g id="n174"><rect class="l" x="106" y="5545" width="80" height="26" rx="4"/><text class="s" x="146" y="5563">minus</text></g>
<g id="n175"><rect class="nt" x="226" y="5545" width="80" height="26" rx="4"/><text class="s" x="266" y="5563">int</text></g>
<g id="n176"><rect class="nt" x="346" y="5545" width="80" height="26" rx="4"/><text class="s" x="386" y="5563">frac</text></g>
<g id="n177"><rect class="nt" x="486" y="5545" width="80" height="26" rx="4"/><text class="s" x="526" y="5563">exp</text></g>
</g>
<g id="decimal-point">
<g id="n178"><rect class="l" x="86" y="5617" width="81" height="26" rx="4"/><text class="s" x="126.5" y="5635">dot</text></g>
</g>
<g id="digit1-9">
<g id="n179"><rect class="t" x="66" y="5689" width="61" height="26" rx="13"/><text class="m" x="96.5" y="5707">[1-9]</text></g>
</g>
<g id="e">
<g id="n180"><rect class="t" x="66" y="5761" width="61" height="26" rx="13"/><text class="m" x="96.5" y="5779">[E e]</text></g>
</g>
<g id="exp">
<g id="n181"><rect class="nt" x="86" y="5833" width="81" height="26" rx="4"/><text class="s" x="126.5" y="5851">e</text></g>
<g id="n182"><rect class="l" x="226" y="5833" width="80" height="26" rx="4"/><text class="s" x="266" y="5851">minus</text></g>
<g id="n183"><rect class="l" x="226" y="5879" width="80" height="26" rx="4"/><text class="s" x="266" y="5897">plus</text></g>
<g id="n184"><rect class="nt" x="386" y="5833" width="80" height="26" rx="4"/><text class="s" x="426" y="5851">digit</text></g>
</g>
<g id="frac">
<g id="n185"><rect class="nt" x="86" y="5951" width="116" height="26" rx="4"/><text class="s" x="144" y="5969">decimal-point</text></g>
<g id="n186"><rect class="nt" x="241" y="5951" width="81" height="26" rx="4"/><text class="s" x="281.5" y="5969">digit</text></g>
</g>
<g id="int">
<g id="n187"><rect class="l" x="86" y="6036" width="81" height="26" rx="4"/><text class="s" x="126.5" y="6054">zero</text></g>
<g id="n188"><rect class="nt" x="86" y="6095" width="81" height="26" rx="4"/><text class="s" x="126.5" y="6113">digit1-9</text></g>
<g id="n189"><rect class="nt" x="206" y="6095" width="80" height="26" rx="4"/><text class="s" x="246" y="6113">digit</text></g>
</g>
<g id="minus"><g id="n190"><rect class="t" x="66" y="6180" width="26" height="26" rx="13"/><text class="m" x="79" y="6198">-</text></g></g>
<g id="plus"><g id="n191"><rect class="t" x="66" y="6252" width="26" height="26" rx="13"/><text class="m" x="79" y="6270">+</text></g></g>
<g id="zero"><g id="n192"><rect class="t" x="66" y="6324" width="26" height="26" rx="13"/><text class="m" x="79" y="6342">0</text></g></g>
<g id="JSON-string">
<g id="n193"><rect class="l" x="86" y="6396" width="127" height="26" rx="4"/><text class="s" x="149.5" y="6414">quotation-mark</text></g>
<g id="n194"><rect class="nt" x="253" y="6396" width="92" height="26" rx="4"/><text class="s" x="299" y="6414">JSON-char</text></g>
<g id="n195"><rect class="l" x="386" y="6396" width="126" height="26" rx="4"/><text class="s" x="449" y="6414">quotation-mark</text></g>
</g>
<g id="quotation-mark"><g id="n196"><rect class="t" x="66" y="6481" width="26" height="26" rx="13"/><text class="m" x="79" y="6499">"</text></g></g>
<g id="JSON-char">
<g id="n197"><rect class="nt" x="86" y="6553" width="94" height="26" rx="4"/><text class="s" x="133" y="6571">unescaped</text></g>
<g id="n198"><rect class="l" x="86" y="6599" width="81" height="26" rx="4"/><text class="s" x="126.5" y="6617">escape</text></g>
<g id="n199"><rect class="t" x="206" y="6599" width="26" height="26" rx="13"/><text class="m" x="219" y="6617">"</text></g>
<g id="n200"><rect class="t" x="206" y="6645" width="26" height="26" rx="13"/><text class="m" x="219" y="6663">\</text></g>
<g id="n201"><rect class="t" x="206" y="6691" width="26" height="26" rx="13"/><text class="m" x="219" y="6709">/</text></g>
<g id="n202"><rect class="t" x="206" y="6737" width="26" height="26" rx="13"/><text class="m" x="219" y="6755">b</text></g>
<g id="n203"><rect class="t" x="206" y="6783" width="26" height="26" rx="13"/><text class="m" x="219" y="6801">f</text></g>
<g id="n204"><rect class="t" x="206" y="6829" width="26" height="26" rx="13"/><text class="m" x="219" y="6847">n</text></g>
<g id="n205"><rect class="t" x="206" y="6875" width="26" height="26" rx="13"/><text class="m" x="219" y="6893">r</text></g>
<g id="n206"><rect class="t" x="206" y="6921" width="26" height="26" rx="13"/><text class="m" x="219" y="6939">t</text></g>
<g id="n207"><rect class="t" x="206" y="6967" width="26" height="26" rx="13"/><text class="m" x="219" y="6985">u</text></g>
<g id="n208"><rect class="nt" x="272" y="6967" width="80" height="26" rx="4"/><text class="s" x="312" y="6985">HEXDIG</text></g>
<text class="k" x="312" y="7002">4</text>
</g>
<g id="unescaped"><g id="n209"><rect class="t" x="66" y="7052" width="147" height="26" rx="13"/><text class="m" x="139.5" y="7070">[not ^@-^Y " \]</text></g></g>
<g id="escape"><g id="n210"><rect class="t" x="66" y="7124" width="26" height="26" rx="13"/><text class="m" x="79" y="7142">\</text></g></g>
<g id="HEXDIG">
<g id="n211"><rect class="nt" x="86" y="7196" width="81" height="26" rx="4"/><text class="s" x="126.5" y="7214">digit</text></g>
<g id="n212"><rect class="t" x="86" y="7242" width="26" height="26" rx="13"/><text class="m" x="99" y="7260">A</text></g>
<g id="n213"><rect class="t" x="86" y="7288" width="26" height="26" rx="13"/><text class="m" x="99" y="7306">B</text></g>
<g id="n214"><rect class="t" x="86" y="7334" width="26" height="26" rx="13"/><text class="m" x="99" y="7352">C</text></g>
<g id="n215"><rect class="t" x="86" y="7380" width="26" height="26" rx="13"/><text class="m" x="99" y="7398">D</text></g>
<g id="n216"><rect class="t" x="86" y="7426" width="26" height="26" rx="13"/><text class="m" x="99" y="7444">E</text></g>
<g id="n217"><rect class="t" x="86" y="7472" width="26" height="26" rx="13"/><text class="m" x="99" y="7490">F</text></g>
</g>
</svg>
